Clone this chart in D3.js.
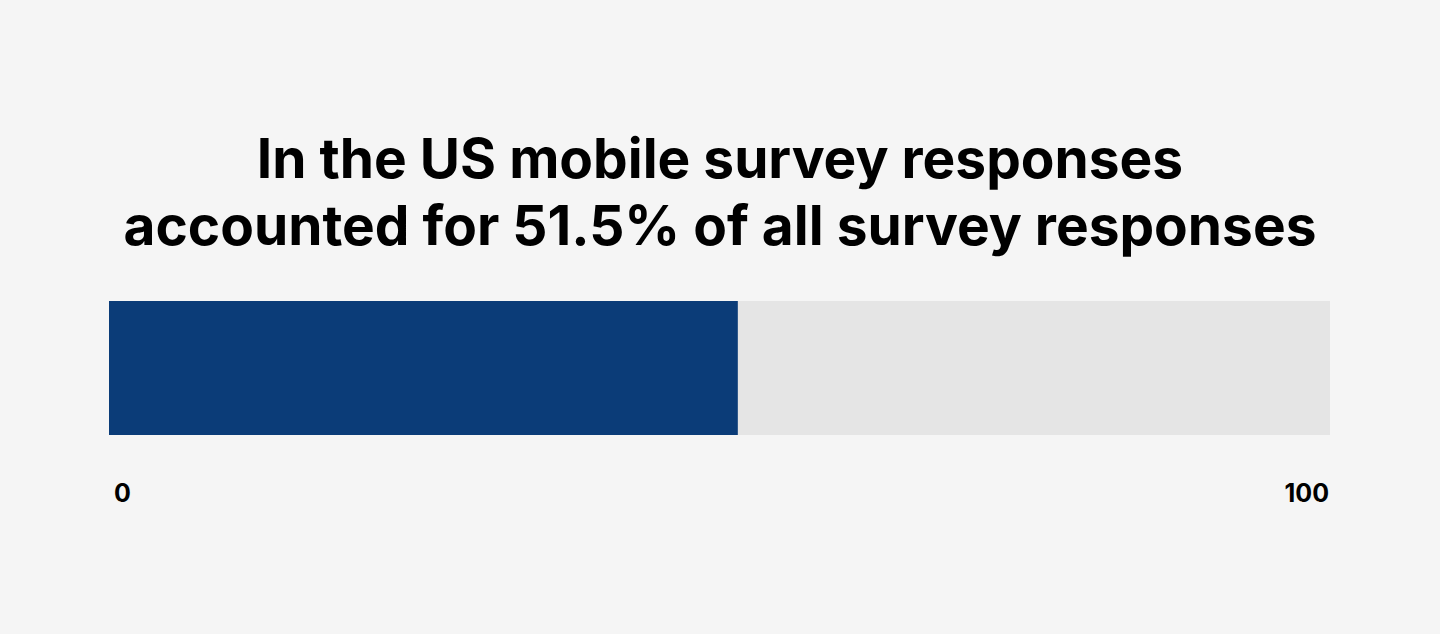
<!DOCTYPE html>
<html>
<head>
<meta charset="utf-8">
<script src="https://cdn.jsdelivr.net/npm/d3@7"></script>
<style>
  html, body { margin: 0; padding: 0; background: #f5f5f5; }
  svg { display: block; font-family: Inter, sans-serif; }
</style>
</head>
<body>
<div id="chart"></div>
<script>
const w = 1440
const h = 634
const titleLines = ['In the US mobile survey responses', 'accounted for 51.5% of all survey responses']
const values = [51.5]
const domain = [0, 100]
const tickLabels = ['0', '100']

const svg = d3.select('#chart')
    .append('svg')
    .attr('width', w)
    .attr('height', h)

svg.append('rect')
    .attr('width', w)
    .attr('height', h)
    .attr('fill', '#f5f5f5')

svg.selectAll('.title')
    .data(titleLines)
    .enter()
    .append('text')
    .attr('class', 'title')
    .attr('x', w / 2)
    .attr('y', (d, i) => 178 + i * 67)
    .attr('text-anchor', 'middle')
    .attr('font-size', 55)
    .attr('font-weight', 700)
    .attr('fill', '#000')
    .text(d => d)

const xScale = d3.scaleLinear()
    .domain(domain)
    .range([109, 1330])

// track
svg.append('rect')
    .attr('x', xScale(domain[0]))
    .attr('y', 301)
    .attr('width', xScale(domain[1]) - xScale(domain[0]))
    .attr('height', 134)
    .attr('fill', '#e5e5e5')

svg.selectAll('.bar')
    .data(values)
    .enter()
    .append('rect')
    .attr('class', 'bar')
    .attr('x', xScale(domain[0]))
    .attr('y', 301)
    .attr('width', d => xScale(d) - xScale(domain[0]))
    .attr('height', 134)
    .attr('fill', '#0b3c78')

svg.selectAll('.tick-label')
    .data(tickLabels)
    .enter()
    .append('text')
    .attr('class', 'tick-label')
    .attr('x', (d, i) => i === 0 ? xScale(+d) + 5 : xScale(+d) - 1)
    .attr('y', 502)
    .attr('text-anchor', (d, i) => i === 0 ? 'start' : 'end')
    .attr('font-size', 25)
    .attr('font-weight', 700)
    .attr('fill', '#000')
    .text(d => d)
</script>
</body>
</html>
